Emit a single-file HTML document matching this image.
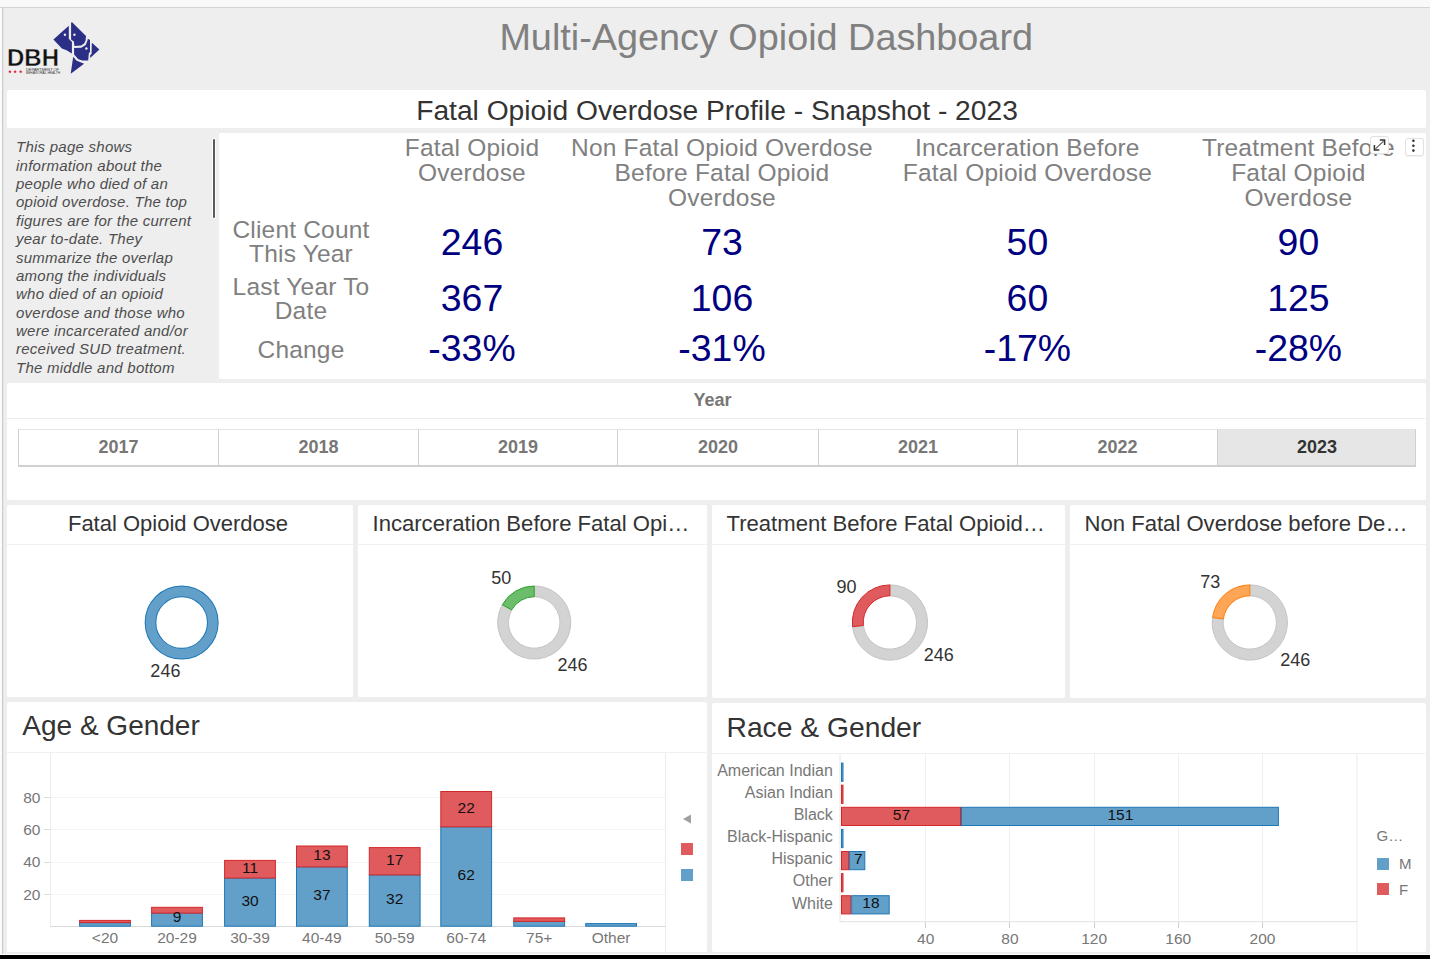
<!DOCTYPE html>
<html><head><meta charset="utf-8"><title>Multi-Agency Opioid Dashboard</title>
<style>
html,body{margin:0;padding:0;}
body{width:1430px;height:959px;position:relative;overflow:hidden;background:#eeeeee;font-family:"Liberation Sans",sans-serif;}
.r{position:absolute;}
.t{position:absolute;white-space:nowrap;}
</style></head><body>
<div class="r" style="left:0px;top:0px;width:1430px;height:7px;background:#f9f9f9;"></div>
<div class="r" style="left:0px;top:7px;width:1430px;height:1px;background:#d4d4d4;"></div>
<div class="r" style="left:0px;top:8px;width:2px;height:947px;background:#fbfbfb;"></div>
<div class="r" style="left:2px;top:8px;width:1px;height:947px;background:#cbcbcb;"></div>
<div class="r" style="left:3px;top:8px;width:1px;height:947px;background:#e6e6e6;"></div>
<div class="r" style="left:0px;top:954px;width:1430px;height:1px;background:#ffffff;"></div>
<div class="r" style="left:0px;top:955px;width:1430px;height:4px;background:#000000;"></div>
<svg class="r" style="left:0;top:0" width="110" height="85" viewBox="0 0 110 85">
<g fill="#2b2f86">
<polygon points="68.8,25.8 53.4,39.6 61.9,48.4 66.6,50.2 71.9,53.4 71.9,41.8 70.4,40.4 68.8,38.7"/>
<polygon points="71.9,22.1 86,36.1 85.6,40.5 84.3,43.2 81.3,45.6 74.4,46 73.9,41.6 71.1,39.4 71.1,22.9"/>
<polygon points="87.9,38.7 90,39.9 90,51.8 88.8,53.4 88.2,60.6 82.5,60.6 78.3,59.2 74.1,54.6 74.1,47.9 81.3,47.7 85.7,44.9 87.5,40.5"/>
<polygon points="92.2,43 99.4,49.6 90.2,58 90.2,54.9 91.6,54 91.8,43"/>
<polygon points="73.2,56.8 76.3,60.6 84.1,63.7 70.7,73.7"/>
</g>
<g fill="#eeeeee"><circle cx="64.9" cy="34.8" r="1.2"/><circle cx="74.4" cy="34.8" r="1.2"/><circle cx="86.4" cy="48.5" r="1.2"/></g>
<text x="7" y="65.7" font-family="Liberation Sans" font-weight="700" font-size="23" textLength="52" lengthAdjust="spacingAndGlyphs" fill="#111" stroke="#eeeeee" stroke-width="0.35">DBH</text>
<g fill="#e0223a"><polygon points="9.90,69.70 10.40,70.91 11.71,71.01 10.71,71.86 11.02,73.14 9.90,72.45 8.78,73.14 9.09,71.86 8.09,71.01 9.40,70.91"/><polygon points="15.10,69.70 15.60,70.91 16.91,71.01 15.91,71.86 16.22,73.14 15.10,72.45 13.98,73.14 14.29,71.86 13.29,71.01 14.60,70.91"/><polygon points="20.70,69.70 21.20,70.91 22.51,71.01 21.51,71.86 21.82,73.14 20.70,72.45 19.58,73.14 19.89,71.86 18.89,71.01 20.20,70.91"/></g>
<g font-family="Liberation Sans" font-weight="400" font-size="4.2" fill="#333"><text x="26" y="70.8" textLength="33" lengthAdjust="spacingAndGlyphs">DEPARTMENT OF</text><text x="26" y="74.2" textLength="34" lengthAdjust="spacingAndGlyphs">BEHAVIORAL HEALTH</text></g>
</svg>
<div class="t" style="top:18.99px;font-size:37.8px;line-height:37.8px;color:#808080;left:766.20px;transform:translateX(-50%);">Multi-Agency Opioid Dashboard</div>
<div class="r" style="left:7px;top:90px;width:1419px;height:38px;background:#fff;border-radius:2px;"></div>
<div class="t" style="top:95.82px;font-size:28.2px;line-height:28.2px;color:#333;left:717.00px;transform:translateX(-50%);">Fatal Opioid Overdose Profile - Snapshot - 2023</div>
<div class="t" style="top:139.40px;font-size:15px;line-height:15px;color:#4d4d4d;font-style:italic;letter-spacing:0.25px;left:16.00px;">This page shows</div>
<div class="t" style="top:157.75px;font-size:15px;line-height:15px;color:#4d4d4d;font-style:italic;letter-spacing:0.25px;left:16.00px;">information about the</div>
<div class="t" style="top:176.10px;font-size:15px;line-height:15px;color:#4d4d4d;font-style:italic;letter-spacing:0.25px;left:16.00px;">people who died of an</div>
<div class="t" style="top:194.45px;font-size:15px;line-height:15px;color:#4d4d4d;font-style:italic;letter-spacing:0.25px;left:16.00px;">opioid overdose. The top</div>
<div class="t" style="top:212.80px;font-size:15px;line-height:15px;color:#4d4d4d;font-style:italic;letter-spacing:0.25px;left:16.00px;">figures are for the current</div>
<div class="t" style="top:231.15px;font-size:15px;line-height:15px;color:#4d4d4d;font-style:italic;letter-spacing:0.25px;left:16.00px;">year to-date. They</div>
<div class="t" style="top:249.50px;font-size:15px;line-height:15px;color:#4d4d4d;font-style:italic;letter-spacing:0.25px;left:16.00px;">summarize the overlap</div>
<div class="t" style="top:267.85px;font-size:15px;line-height:15px;color:#4d4d4d;font-style:italic;letter-spacing:0.25px;left:16.00px;">among the individuals</div>
<div class="t" style="top:286.20px;font-size:15px;line-height:15px;color:#4d4d4d;font-style:italic;letter-spacing:0.25px;left:16.00px;">who died of an opioid</div>
<div class="t" style="top:304.55px;font-size:15px;line-height:15px;color:#4d4d4d;font-style:italic;letter-spacing:0.25px;left:16.00px;">overdose and those who</div>
<div class="t" style="top:322.90px;font-size:15px;line-height:15px;color:#4d4d4d;font-style:italic;letter-spacing:0.25px;left:16.00px;">were incarcerated and/or</div>
<div class="t" style="top:341.25px;font-size:15px;line-height:15px;color:#4d4d4d;font-style:italic;letter-spacing:0.25px;left:16.00px;">received SUD treatment.</div>
<div class="t" style="top:359.60px;font-size:15px;line-height:15px;color:#4d4d4d;font-style:italic;letter-spacing:0.25px;left:16.00px;">The middle and bottom</div>
<div class="r" style="left:213px;top:139px;width:2px;height:79px;background:#5a5a5a;border-radius:1px;box-shadow:0 0 0 1px rgba(255,255,255,0.8);"></div>
<div class="r" style="left:219px;top:133px;width:1207px;height:246px;background:#fff;border-radius:1.5px;"></div>
<div class="t" style="top:136.26px;font-size:24.5px;line-height:24.5px;color:#808080;letter-spacing:0.2px;left:472.00px;transform:translateX(-50%);">Fatal Opioid</div>
<div class="t" style="top:161.26px;font-size:24.5px;line-height:24.5px;color:#808080;letter-spacing:0.2px;left:472.00px;transform:translateX(-50%);">Overdose</div>
<div class="t" style="top:136.26px;font-size:24.5px;line-height:24.5px;color:#808080;letter-spacing:0.2px;left:722.00px;transform:translateX(-50%);">Non Fatal Opioid Overdose</div>
<div class="t" style="top:161.26px;font-size:24.5px;line-height:24.5px;color:#808080;letter-spacing:0.2px;left:722.00px;transform:translateX(-50%);">Before Fatal Opioid</div>
<div class="t" style="top:186.26px;font-size:24.5px;line-height:24.5px;color:#808080;letter-spacing:0.2px;left:722.00px;transform:translateX(-50%);">Overdose</div>
<div class="t" style="top:136.26px;font-size:24.5px;line-height:24.5px;color:#808080;letter-spacing:0.2px;left:1027.40px;transform:translateX(-50%);">Incarceration Before</div>
<div class="t" style="top:161.26px;font-size:24.5px;line-height:24.5px;color:#808080;letter-spacing:0.2px;left:1027.40px;transform:translateX(-50%);">Fatal Opioid Overdose</div>
<div class="t" style="top:136.26px;font-size:24.5px;line-height:24.5px;color:#808080;letter-spacing:0.2px;left:1298.40px;transform:translateX(-50%);">Treatment Before</div>
<div class="t" style="top:161.26px;font-size:24.5px;line-height:24.5px;color:#808080;letter-spacing:0.2px;left:1298.40px;transform:translateX(-50%);">Fatal Opioid</div>
<div class="t" style="top:186.26px;font-size:24.5px;line-height:24.5px;color:#808080;letter-spacing:0.2px;left:1298.40px;transform:translateX(-50%);">Overdose</div>
<div class="t" style="top:217.76px;font-size:24.5px;line-height:24.5px;color:#808080;letter-spacing:0.2px;left:301.00px;transform:translateX(-50%);">Client Count</div>
<div class="t" style="top:242.16px;font-size:24.5px;line-height:24.5px;color:#808080;letter-spacing:0.2px;left:301.00px;transform:translateX(-50%);">This Year</div>
<div class="t" style="top:274.76px;font-size:24.5px;line-height:24.5px;color:#808080;letter-spacing:0.2px;left:301.00px;transform:translateX(-50%);">Last Year To</div>
<div class="t" style="top:299.16px;font-size:24.5px;line-height:24.5px;color:#808080;letter-spacing:0.2px;left:301.00px;transform:translateX(-50%);">Date</div>
<div class="t" style="top:337.76px;font-size:24.5px;line-height:24.5px;color:#808080;letter-spacing:0.2px;left:301.00px;transform:translateX(-50%);">Change</div>
<div class="t" style="top:223.63px;font-size:37.4px;line-height:37.4px;color:#000080;left:472.00px;transform:translateX(-50%);">246</div>
<div class="t" style="top:223.63px;font-size:37.4px;line-height:37.4px;color:#000080;left:722.00px;transform:translateX(-50%);">73</div>
<div class="t" style="top:223.63px;font-size:37.4px;line-height:37.4px;color:#000080;left:1027.40px;transform:translateX(-50%);">50</div>
<div class="t" style="top:223.63px;font-size:37.4px;line-height:37.4px;color:#000080;left:1298.40px;transform:translateX(-50%);">90</div>
<div class="t" style="top:279.73px;font-size:37.4px;line-height:37.4px;color:#000080;left:472.00px;transform:translateX(-50%);">367</div>
<div class="t" style="top:279.73px;font-size:37.4px;line-height:37.4px;color:#000080;left:722.00px;transform:translateX(-50%);">106</div>
<div class="t" style="top:279.73px;font-size:37.4px;line-height:37.4px;color:#000080;left:1027.40px;transform:translateX(-50%);">60</div>
<div class="t" style="top:279.73px;font-size:37.4px;line-height:37.4px;color:#000080;left:1298.40px;transform:translateX(-50%);">125</div>
<div class="t" style="top:330.33px;font-size:37.4px;line-height:37.4px;color:#000080;left:472.00px;transform:translateX(-50%);">-33%</div>
<div class="t" style="top:330.33px;font-size:37.4px;line-height:37.4px;color:#000080;left:722.00px;transform:translateX(-50%);">-31%</div>
<div class="t" style="top:330.33px;font-size:37.4px;line-height:37.4px;color:#000080;left:1027.40px;transform:translateX(-50%);">-17%</div>
<div class="t" style="top:330.33px;font-size:37.4px;line-height:37.4px;color:#000080;left:1298.40px;transform:translateX(-50%);">-28%</div>
<div class="r" style="left:1370px;top:135.5px;width:19px;height:18.5px;background:#fff;border:1px solid #e2e2e2;border-radius:3px;box-sizing:border-box;box-shadow:0 0.5px 1px rgba(0,0,0,0.06)"></div>
<div class="r" style="left:1404.5px;top:137.5px;width:19px;height:18px;background:#fff;border:1px solid #e2e2e2;border-radius:3px;box-sizing:border-box;box-shadow:0 0.5px 1px rgba(0,0,0,0.06)"></div>
<svg class="r" style="left:1366px;top:132px" width="60" height="28" viewBox="1366 132 60 28">
<g stroke="#333" stroke-width="1.5" fill="none" stroke-linecap="square"><path d="M1380.6 140.1 H1384.6 V144.3"/><path d="M1374.4 145.7 V149.9 H1378.6"/></g>
<path d="M1375.4 148.9 L1383.6 141.1" stroke="#555" stroke-width="1.1"/>
<g fill="#333"><circle cx="1413.4" cy="140.8" r="1.3"/><circle cx="1413.4" cy="145.8" r="1.3"/><circle cx="1413.4" cy="150.6" r="1.3"/></g>
</svg>
<div class="r" style="left:7px;top:383px;width:1419px;height:117px;background:#fff;border-radius:2px;"></div>
<div class="r" style="left:7px;top:418px;width:1418px;height:1px;background:#ebebeb;"></div>
<div class="t" style="top:391.26px;font-size:18px;line-height:18px;color:#777;font-weight:700;left:712.50px;transform:translateX(-50%);">Year</div>
<div class="r" style="left:18px;top:429px;width:200px;height:38px;box-sizing:border-box;border-top:1px solid #e4e4e4;border-bottom:2px solid #d0d0d0;border-left:1px solid #d0d0d0;background:#fff"></div>
<div class="t" style="top:438.26px;font-size:18px;line-height:18px;color:#777;font-weight:700;left:118.50px;transform:translateX(-50%);">2017</div>
<div class="r" style="left:218px;top:429px;width:200px;height:38px;box-sizing:border-box;border-top:1px solid #e4e4e4;border-bottom:2px solid #d0d0d0;border-left:1px solid #d0d0d0;background:#fff"></div>
<div class="t" style="top:438.26px;font-size:18px;line-height:18px;color:#777;font-weight:700;left:318.50px;transform:translateX(-50%);">2018</div>
<div class="r" style="left:418px;top:429px;width:199px;height:38px;box-sizing:border-box;border-top:1px solid #e4e4e4;border-bottom:2px solid #d0d0d0;border-left:1px solid #d0d0d0;background:#fff"></div>
<div class="t" style="top:438.26px;font-size:18px;line-height:18px;color:#777;font-weight:700;left:518.00px;transform:translateX(-50%);">2019</div>
<div class="r" style="left:617px;top:429px;width:201px;height:38px;box-sizing:border-box;border-top:1px solid #e4e4e4;border-bottom:2px solid #d0d0d0;border-left:1px solid #d0d0d0;background:#fff"></div>
<div class="t" style="top:438.26px;font-size:18px;line-height:18px;color:#777;font-weight:700;left:718.00px;transform:translateX(-50%);">2020</div>
<div class="r" style="left:818px;top:429px;width:199px;height:38px;box-sizing:border-box;border-top:1px solid #e4e4e4;border-bottom:2px solid #d0d0d0;border-left:1px solid #d0d0d0;background:#fff"></div>
<div class="t" style="top:438.26px;font-size:18px;line-height:18px;color:#777;font-weight:700;left:918.00px;transform:translateX(-50%);">2021</div>
<div class="r" style="left:1017px;top:429px;width:200px;height:38px;box-sizing:border-box;border-top:1px solid #e4e4e4;border-bottom:2px solid #d0d0d0;border-left:1px solid #d0d0d0;background:#fff"></div>
<div class="t" style="top:438.26px;font-size:18px;line-height:18px;color:#777;font-weight:700;left:1117.50px;transform:translateX(-50%);">2022</div>
<div class="r" style="left:1217px;top:429px;width:199px;height:38px;box-sizing:border-box;border-top:1px solid #e4e4e4;border-bottom:2px solid #d0d0d0;border-left:1px solid #d0d0d0;border-right:1px solid #d0d0d0;background:#e6e6e6"></div>
<div class="t" style="top:438.26px;font-size:18px;line-height:18px;color:#333;font-weight:700;left:1317.00px;transform:translateX(-50%);">2023</div>
<div class="r" style="left:7px;top:505px;width:346px;height:192px;background:#fff;border-radius:2px;"></div>
<div class="r" style="left:7px;top:544px;width:346px;height:1px;background:#f0f0f0;"></div>
<div class="t" style="top:512.87px;font-size:22px;line-height:22px;color:#333;left:178.00px;transform:translateX(-50%);">Fatal Opioid Overdose</div>
<div class="r" style="left:358px;top:505px;width:349px;height:192px;background:#fff;border-radius:2px;"></div>
<div class="r" style="left:358px;top:544px;width:349px;height:1px;background:#f0f0f0;"></div>
<div class="t" style="top:512.79px;font-size:22.1px;line-height:22.1px;color:#333;left:372.50px;">Incarceration Before Fatal Opi…</div>
<div class="r" style="left:712px;top:505px;width:353px;height:193px;background:#fff;border-radius:2px;"></div>
<div class="r" style="left:712px;top:544px;width:353px;height:1px;background:#f0f0f0;"></div>
<div class="t" style="top:512.79px;font-size:22.1px;line-height:22.1px;color:#333;left:726.50px;">Treatment Before Fatal Opioid…</div>
<div class="r" style="left:1070px;top:505px;width:356px;height:193px;background:#fff;border-radius:2px;"></div>
<div class="r" style="left:1070px;top:544px;width:356px;height:1px;background:#f0f0f0;"></div>
<div class="t" style="top:512.79px;font-size:22.1px;line-height:22.1px;color:#333;left:1084.50px;">Non Fatal Overdose before De…</div>
<svg class="r" style="left:0;top:0" width="1430" height="959">
<circle cx="181.65" cy="622.5" r="31.15" fill="none" stroke="#1f77b4" stroke-width="11.7"/>
<circle cx="181.65" cy="622.5" r="31.15" fill="none" stroke="#62a0ca" stroke-width="9.7"/>
<path d="M502.25,604.65 A36.6,36.6 0 1 0 534.20,585.90 L534.20,596.80 A25.7,25.7 0 1 1 511.76,609.97 Z" fill="#d3d3d3" stroke="#bdbdbd" stroke-width="0.8"/>
<path d="M534.20,586.00 A36.5,36.5 0 0 0 502.33,604.70 L511.68,609.92 A25.8,25.8 0 0 1 534.20,596.70 Z" fill="#6bbc6b" stroke="#2ca02c" stroke-width="1"/>
<path d="M852.44,626.72 A37.7,37.7 0 1 0 889.90,584.80 L889.90,595.90 A26.599999999999998,26.599999999999998 0 1 1 863.47,625.48 Z" fill="#d3d3d3" stroke="#bdbdbd" stroke-width="0.8"/>
<path d="M889.90,584.90 A37.6,37.6 0 0 0 852.54,626.71 L863.37,625.49 A26.7,26.7 0 0 1 889.90,595.80 Z" fill="#e05b5d" stroke="#d62728" stroke-width="1"/>
<path d="M1212.43,617.50 A37.7,37.7 0 1 0 1249.80,584.80 L1249.80,595.90 A26.599999999999998,26.599999999999998 0 1 1 1223.43,618.97 Z" fill="#d3d3d3" stroke="#bdbdbd" stroke-width="0.8"/>
<path d="M1249.80,584.90 A37.6,37.6 0 0 0 1212.53,617.52 L1223.34,618.96 A26.7,26.7 0 0 1 1249.80,595.80 Z" fill="#ffa556" stroke="#ff7f0e" stroke-width="1"/>
</svg>
<div class="t" style="top:662.26px;font-size:18px;line-height:18px;color:#333;left:165.40px;transform:translateX(-50%);">246</div>
<div class="t" style="top:568.56px;font-size:18px;line-height:18px;color:#333;left:501.20px;transform:translateX(-50%);">50</div>
<div class="t" style="top:655.56px;font-size:18px;line-height:18px;color:#333;left:572.50px;transform:translateX(-50%);">246</div>
<div class="t" style="top:577.66px;font-size:18px;line-height:18px;color:#333;left:846.40px;transform:translateX(-50%);">90</div>
<div class="t" style="top:645.56px;font-size:18px;line-height:18px;color:#333;left:938.80px;transform:translateX(-50%);">246</div>
<div class="t" style="top:573.26px;font-size:18px;line-height:18px;color:#333;left:1210.20px;transform:translateX(-50%);">73</div>
<div class="t" style="top:650.86px;font-size:18px;line-height:18px;color:#333;left:1295.20px;transform:translateX(-50%);">246</div>
<div class="r" style="left:7px;top:702px;width:700px;height:250px;background:#fff;border-radius:2px;"></div>
<div class="r" style="left:7px;top:752px;width:699px;height:1px;background:#f0f0f0;"></div>
<div class="t" style="top:711.89px;font-size:28px;line-height:28px;color:#333;left:22.30px;">Age &amp; Gender</div>
<svg class="r" style="left:0;top:0" width="1430" height="959">
<line x1="50" x2="665.5" y1="894.5" y2="894.5" stroke="#f3f3f3" stroke-width="1"/>
<line x1="44" x2="50" y1="894.5" y2="894.5" stroke="#d9d9d9" stroke-width="1"/>
<line x1="50" x2="665.5" y1="862.5" y2="862.5" stroke="#f3f3f3" stroke-width="1"/>
<line x1="44" x2="50" y1="862.5" y2="862.5" stroke="#d9d9d9" stroke-width="1"/>
<line x1="50" x2="665.5" y1="829.5" y2="829.5" stroke="#f3f3f3" stroke-width="1"/>
<line x1="44" x2="50" y1="829.5" y2="829.5" stroke="#d9d9d9" stroke-width="1"/>
<line x1="50" x2="665.5" y1="797.5" y2="797.5" stroke="#f3f3f3" stroke-width="1"/>
<line x1="44" x2="50" y1="797.5" y2="797.5" stroke="#d9d9d9" stroke-width="1"/>
<line x1="50.5" x2="50.5" y1="753" y2="926.5" stroke="#ececec" stroke-width="1"/>
<line x1="665.5" x2="665.5" y1="753" y2="952" stroke="#ececec" stroke-width="1"/>
<line x1="50" x2="665.5" y1="926.5" y2="926.5" stroke="#d9d9d9" stroke-width="1"/>
<rect x="79.6" y="922.7" width="50.8" height="3.5" fill="#62a0ca" stroke="#1f77b4" stroke-width="1"/>
<rect x="79.6" y="920.4" width="50.8" height="2.2" fill="#e05b5d" stroke="#d62728" stroke-width="1"/>
<rect x="151.6" y="913.0" width="50.8" height="13.2" fill="#62a0ca" stroke="#1f77b4" stroke-width="1"/>
<rect x="151.6" y="907.3" width="50.8" height="5.8" fill="#e05b5d" stroke="#d62728" stroke-width="1"/>
<rect x="224.6" y="878.1" width="50.8" height="48.1" fill="#62a0ca" stroke="#1f77b4" stroke-width="1"/>
<rect x="224.6" y="860.4" width="50.8" height="17.6" fill="#e05b5d" stroke="#d62728" stroke-width="1"/>
<rect x="296.5" y="866.9" width="50.8" height="59.3" fill="#62a0ca" stroke="#1f77b4" stroke-width="1"/>
<rect x="296.5" y="846.0" width="50.8" height="20.9" fill="#e05b5d" stroke="#d62728" stroke-width="1"/>
<rect x="369.3" y="874.9" width="50.8" height="51.3" fill="#62a0ca" stroke="#1f77b4" stroke-width="1"/>
<rect x="369.3" y="847.6" width="50.8" height="27.3" fill="#e05b5d" stroke="#d62728" stroke-width="1"/>
<rect x="440.8" y="826.8" width="50.8" height="99.4" fill="#62a0ca" stroke="#1f77b4" stroke-width="1"/>
<rect x="440.8" y="791.5" width="50.8" height="35.3" fill="#e05b5d" stroke="#d62728" stroke-width="1"/>
<rect x="513.8" y="921.4" width="50.8" height="4.8" fill="#62a0ca" stroke="#1f77b4" stroke-width="1"/>
<rect x="513.8" y="917.9" width="50.8" height="3.5" fill="#e05b5d" stroke="#d62728" stroke-width="1"/>
<rect x="585.7" y="923.6" width="50.8" height="2.6" fill="#62a0ca" stroke="#1f77b4" stroke-width="1"/>
</svg>
<div class="t" style="top:886.50px;font-size:15.5px;line-height:15.5px;color:#777;right:1389.50px;">20</div>
<div class="t" style="top:854.42px;font-size:15.5px;line-height:15.5px;color:#777;right:1389.50px;">40</div>
<div class="t" style="top:822.34px;font-size:15.5px;line-height:15.5px;color:#777;right:1389.50px;">60</div>
<div class="t" style="top:790.26px;font-size:15.5px;line-height:15.5px;color:#777;right:1389.50px;">80</div>
<div class="t" style="top:930.18px;font-size:15.5px;line-height:15.5px;color:#777;left:105.00px;transform:translateX(-50%);">&lt;20</div>
<div class="t" style="top:930.18px;font-size:15.5px;line-height:15.5px;color:#777;left:177.00px;transform:translateX(-50%);">20-29</div>
<div class="t" style="top:930.18px;font-size:15.5px;line-height:15.5px;color:#777;left:250.00px;transform:translateX(-50%);">30-39</div>
<div class="t" style="top:930.18px;font-size:15.5px;line-height:15.5px;color:#777;left:321.90px;transform:translateX(-50%);">40-49</div>
<div class="t" style="top:930.18px;font-size:15.5px;line-height:15.5px;color:#777;left:394.70px;transform:translateX(-50%);">50-59</div>
<div class="t" style="top:930.18px;font-size:15.5px;line-height:15.5px;color:#777;left:466.20px;transform:translateX(-50%);">60-74</div>
<div class="t" style="top:930.18px;font-size:15.5px;line-height:15.5px;color:#777;left:539.20px;transform:translateX(-50%);">75+</div>
<div class="t" style="top:930.18px;font-size:15.5px;line-height:15.5px;color:#777;left:611.10px;transform:translateX(-50%);">Other</div>
<div class="t" style="top:908.58px;font-size:15.5px;line-height:15.5px;color:#111;left:177.00px;transform:translateX(-50%);">9</div>
<div class="t" style="top:892.82px;font-size:15.5px;line-height:15.5px;color:#111;left:250.00px;transform:translateX(-50%);">30</div>
<div class="t" style="top:859.93px;font-size:15.5px;line-height:15.5px;color:#111;left:250.00px;transform:translateX(-50%);">11</div>
<div class="t" style="top:887.20px;font-size:15.5px;line-height:15.5px;color:#111;left:321.90px;transform:translateX(-50%);">37</div>
<div class="t" style="top:847.10px;font-size:15.5px;line-height:15.5px;color:#111;left:321.90px;transform:translateX(-50%);">13</div>
<div class="t" style="top:891.21px;font-size:15.5px;line-height:15.5px;color:#111;left:394.70px;transform:translateX(-50%);">32</div>
<div class="t" style="top:851.91px;font-size:15.5px;line-height:15.5px;color:#111;left:394.70px;transform:translateX(-50%);">17</div>
<div class="t" style="top:867.15px;font-size:15.5px;line-height:15.5px;color:#111;left:466.20px;transform:translateX(-50%);">62</div>
<div class="t" style="top:799.78px;font-size:15.5px;line-height:15.5px;color:#111;left:466.20px;transform:translateX(-50%);">22</div>
<svg class="r" style="left:682px;top:814px" width="10" height="10"><polygon points="9,0.5 9,9.5 1,5" fill="#a0a0a0"/></svg>
<div class="r" style="left:681px;top:843px;width:12px;height:12px;background:#e05b5d;"></div>
<div class="r" style="left:681px;top:869px;width:12px;height:12px;background:#62a0ca;"></div>
<div class="r" style="left:712px;top:703px;width:714px;height:249px;background:#fff;border-radius:2px;"></div>
<div class="r" style="left:712px;top:753px;width:713px;height:1px;background:#f0f0f0;"></div>
<div class="t" style="top:713.38px;font-size:28.25px;line-height:28.25px;color:#333;left:726.50px;">Race &amp; Gender</div>
<svg class="r" style="left:0;top:0" width="1430" height="959">
<line x1="925.5" x2="925.5" y1="754" y2="921.5" stroke="#f0f0f0" stroke-width="1"/>
<line x1="925.5" x2="925.5" y1="922" y2="928" stroke="#d0d0d0" stroke-width="1"/>
<line x1="1009.5" x2="1009.5" y1="754" y2="921.5" stroke="#f0f0f0" stroke-width="1"/>
<line x1="1009.5" x2="1009.5" y1="922" y2="928" stroke="#d0d0d0" stroke-width="1"/>
<line x1="1094.5" x2="1094.5" y1="754" y2="921.5" stroke="#f0f0f0" stroke-width="1"/>
<line x1="1094.5" x2="1094.5" y1="922" y2="928" stroke="#d0d0d0" stroke-width="1"/>
<line x1="1178.5" x2="1178.5" y1="754" y2="921.5" stroke="#f0f0f0" stroke-width="1"/>
<line x1="1178.5" x2="1178.5" y1="922" y2="928" stroke="#d0d0d0" stroke-width="1"/>
<line x1="1262.5" x2="1262.5" y1="754" y2="921.5" stroke="#f0f0f0" stroke-width="1"/>
<line x1="1262.5" x2="1262.5" y1="922" y2="928" stroke="#d0d0d0" stroke-width="1"/>
<line x1="840" x2="840" y1="754" y2="922" stroke="#e6e6e6" stroke-width="1"/>
<line x1="1357" x2="1357" y1="754" y2="952" stroke="#ececec" stroke-width="1"/>
<line x1="840" x2="1357" y1="921.7" y2="921.7" stroke="#e0e0e0" stroke-width="1"/>
<rect x="841.5" y="763.1" width="1.5" height="18.2" fill="#62a0ca" stroke="#1f77b4" stroke-width="1"/>
<rect x="841.5" y="785.2" width="1.5" height="18.2" fill="#e05b5d" stroke="#d62728" stroke-width="1"/>
<rect x="841.5" y="807.3" width="119.0" height="18.2" fill="#e05b5d" stroke="#d62728" stroke-width="1"/>
<rect x="961.5" y="807.3" width="316.9" height="18.2" fill="#62a0ca" stroke="#1f77b4" stroke-width="1"/>
<rect x="841.5" y="829.4" width="1.5" height="18.2" fill="#62a0ca" stroke="#1f77b4" stroke-width="1"/>
<rect x="841.5" y="851.5" width="7.1" height="18.2" fill="#e05b5d" stroke="#d62728" stroke-width="1"/>
<rect x="849.6" y="851.5" width="15.2" height="18.2" fill="#62a0ca" stroke="#1f77b4" stroke-width="1"/>
<rect x="841.5" y="873.6" width="1.5" height="18.2" fill="#e05b5d" stroke="#d62728" stroke-width="1"/>
<rect x="841.5" y="895.7" width="9.2" height="18.2" fill="#e05b5d" stroke="#d62728" stroke-width="1"/>
<rect x="851.7" y="895.7" width="37.5" height="18.2" fill="#62a0ca" stroke="#1f77b4" stroke-width="1"/>
</svg>
<div class="t" style="top:762.95px;font-size:16px;line-height:16px;color:#777;right:597.20px;">American Indian</div>
<div class="t" style="top:785.05px;font-size:16px;line-height:16px;color:#777;right:597.20px;">Asian Indian</div>
<div class="t" style="top:807.15px;font-size:16px;line-height:16px;color:#777;right:597.20px;">Black</div>
<div class="t" style="top:829.25px;font-size:16px;line-height:16px;color:#777;right:597.20px;">Black-Hispanic</div>
<div class="t" style="top:851.35px;font-size:16px;line-height:16px;color:#777;right:597.20px;">Hispanic</div>
<div class="t" style="top:873.45px;font-size:16px;line-height:16px;color:#777;right:597.20px;">Other</div>
<div class="t" style="top:895.55px;font-size:16px;line-height:16px;color:#777;right:597.20px;">White</div>
<div class="t" style="top:806.78px;font-size:15.5px;line-height:15.5px;color:#111;left:901.49px;transform:translateX(-50%);">57</div>
<div class="t" style="top:806.78px;font-size:15.5px;line-height:15.5px;color:#111;left:1120.41px;transform:translateX(-50%);">151</div>
<div class="t" style="top:851.18px;font-size:15.5px;line-height:15.5px;color:#111;left:858.21px;transform:translateX(-50%);">7</div>
<div class="t" style="top:895.18px;font-size:15.5px;line-height:15.5px;color:#111;left:870.97px;transform:translateX(-50%);">18</div>
<div class="t" style="top:930.68px;font-size:15.5px;line-height:15.5px;color:#777;left:925.70px;transform:translateX(-50%);">40</div>
<div class="t" style="top:930.68px;font-size:15.5px;line-height:15.5px;color:#777;left:1009.90px;transform:translateX(-50%);">80</div>
<div class="t" style="top:930.68px;font-size:15.5px;line-height:15.5px;color:#777;left:1094.10px;transform:translateX(-50%);">120</div>
<div class="t" style="top:930.68px;font-size:15.5px;line-height:15.5px;color:#777;left:1178.30px;transform:translateX(-50%);">160</div>
<div class="t" style="top:930.68px;font-size:15.5px;line-height:15.5px;color:#777;left:1262.50px;transform:translateX(-50%);">200</div>
<div class="t" style="top:827.80px;font-size:15px;line-height:15px;color:#777;left:1376.50px;">G…</div>
<div class="r" style="left:1377px;top:858px;width:12px;height:12px;background:#62a0ca;"></div>
<div class="t" style="top:856.40px;font-size:15px;line-height:15px;color:#777;left:1399.00px;">M</div>
<div class="r" style="left:1377px;top:883px;width:12px;height:12px;background:#e05b5d;"></div>
<div class="t" style="top:882.30px;font-size:15px;line-height:15px;color:#777;left:1399.00px;">F</div>
</body></html>
